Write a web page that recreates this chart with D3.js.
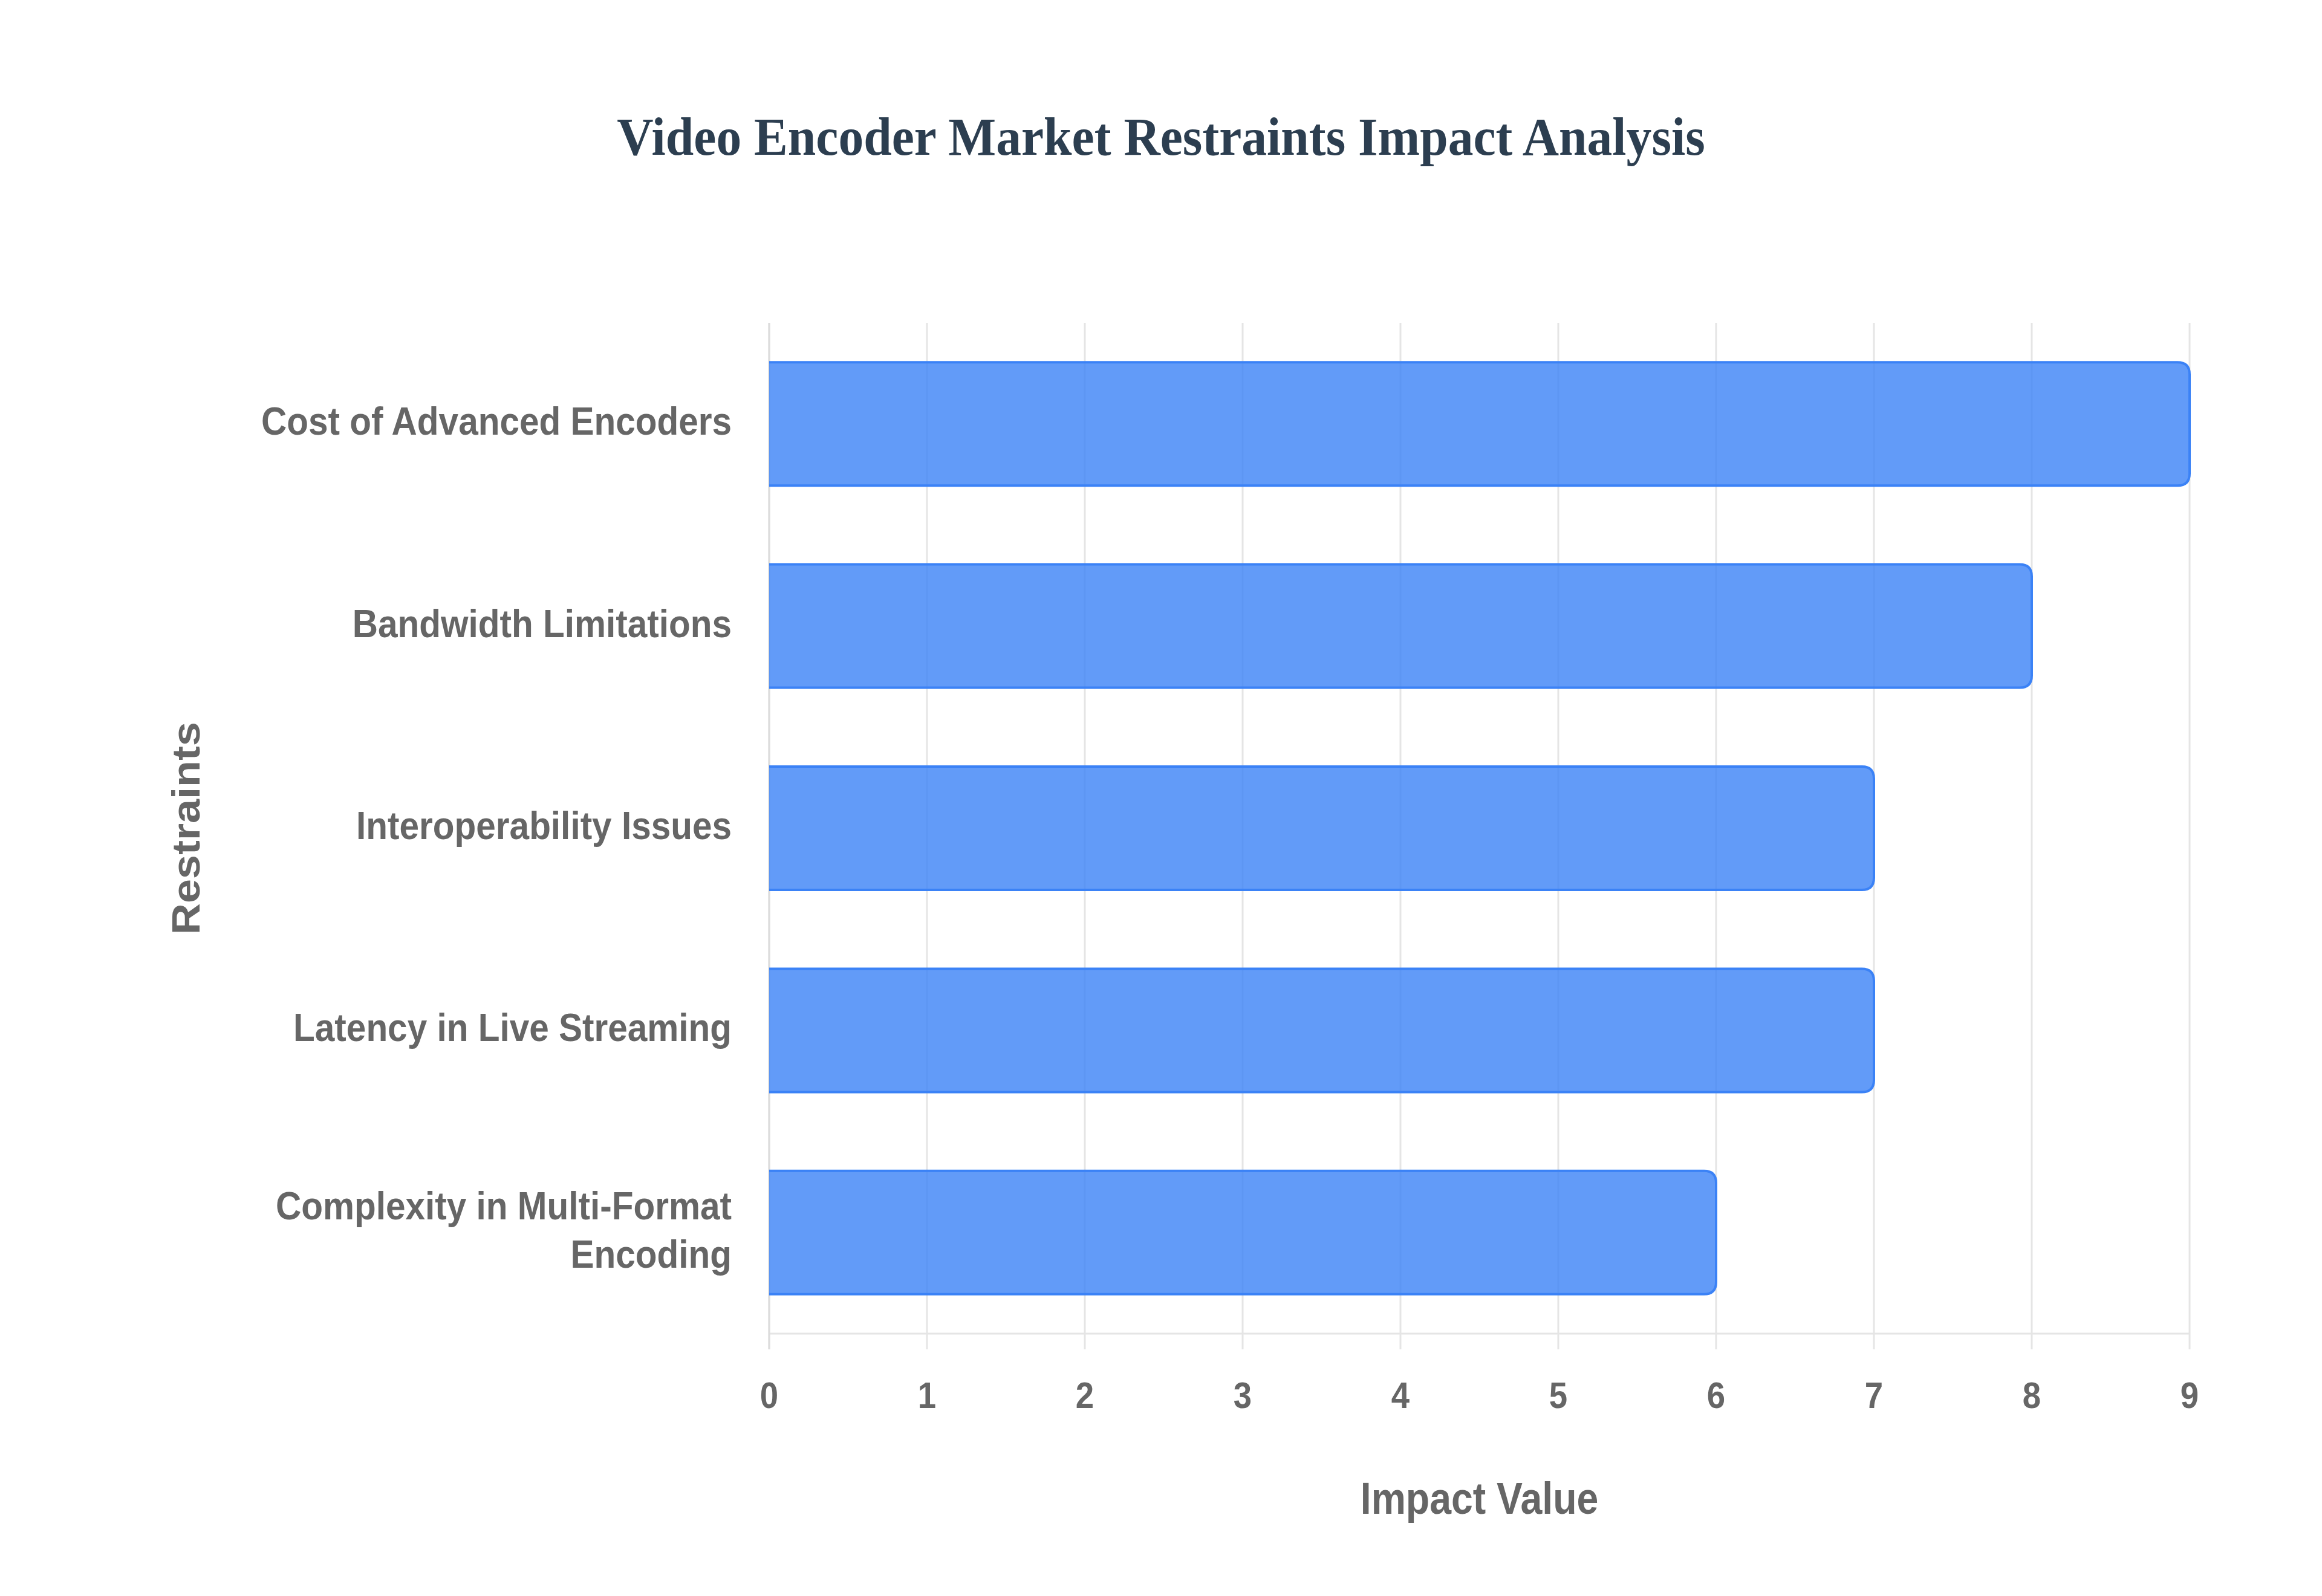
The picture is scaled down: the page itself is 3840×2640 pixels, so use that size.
<!DOCTYPE html>
<html>
<head>
<meta charset="utf-8">
<script src="https://cdn.jsdelivr.net/npm/d3@7"></script>
<style>
  html, body { margin: 0; padding: 0; background: #fff; }
  svg { display: block; }
</style>
</head>
<body>
<svg id="chart"></svg>
<script>
const width = 3840;
const height = 2640;

// data
const restraints = [
  "Cost of Advanced Encoders",
  "Bandwidth Limitations",
  "Interoperability Issues",
  "Latency in Live Streaming",
  "Complexity in Multi-Format Encoding",
];
const restraintLines = [
  ["Cost of Advanced Encoders"],
  ["Bandwidth Limitations"],
  ["Interoperability Issues"],
  ["Latency in Live Streaming"],
  ["Complexity in Multi-Format", "Encoding"],
];
const impactValues = [9, 8, 7, 7, 6];
const xTicks = [0, 1, 2, 3, 4, 5, 6, 7, 8, 9];
const titleText = "Video Encoder Market Restraints Impact Analysis";
const xTitle = "Impact Value";
const yTitle = "Restraints";

const plot = { left: 1272, right: 3621, top: 534, bottom: 2206 };
const labelColor = "#666666";
const gridColor = "#e5e5e5";
const sans = "'Liberation Sans', Arial, Helvetica, sans-serif";

const svg = d3.select("#chart").attr("width", width).attr("height", height);

const x = d3.scaleLinear().domain([0, 9]).range([plot.left, plot.right]);
const y = d3.scaleBand().domain(restraints).range([plot.top, plot.bottom]);
const barH = y.bandwidth() * 0.61;

// grid lines (also act as tick marks under the axis)
svg.append("g")
  .selectAll("line")
  .data(xTicks)
  .enter()
  .append("line")
  .attr("x1", (d) => x(d))
  .attr("x2", (d) => x(d))
  .attr("y1", plot.top)
  .attr("y2", plot.bottom + 26)
  .attr("stroke", gridColor)
  .attr("stroke-width", 3);

svg.append("line")
  .attr("x1", plot.left)
  .attr("x2", plot.right)
  .attr("y1", plot.bottom)
  .attr("y2", plot.bottom)
  .attr("stroke", gridColor)
  .attr("stroke-width", 3);

svg.append("line")
  .attr("x1", plot.left)
  .attr("x2", plot.left)
  .attr("y1", plot.top)
  .attr("y2", plot.bottom + 26)
  .attr("stroke", "#dcdcdc")
  .attr("stroke-width", 3);

// bars, rounded on the value end only
const r = 20;
function barOutline(d, i, closed) {
  const x0 = x(0), x1 = x(impactValues[i]);
  const y0 = y(d) + (y.bandwidth() - barH) / 2, y1 = y0 + barH;
  const p = `M${x0},${y0}H${x1 - r}Q${x1},${y0} ${x1},${y0 + r}V${y1 - r}Q${x1},${y1} ${x1 - r},${y1}H${x0}`;
  return closed ? p + "Z" : p;
}

const bars = svg.append("g");
bars.selectAll("path.fill")
  .data(restraints)
  .enter()
  .append("path")
  .attr("class", "fill")
  .attr("d", (d, i) => barOutline(d, i, true))
  .attr("fill", "rgba(59,130,246,0.8)");
bars.selectAll("path.edge")
  .data(restraints)
  .enter()
  .append("path")
  .attr("class", "edge")
  .attr("d", (d, i) => barOutline(d, i, false))
  .attr("fill", "none")
  .attr("stroke", "#3b82f6")
  .attr("stroke-width", 4);

// x tick labels
svg.append("g")
  .selectAll("text")
  .data(xTicks)
  .enter()
  .append("text")
  .attr("transform", (d) => `translate(${x(d)},2329) scale(0.88,1)`)
  .attr("text-anchor", "middle")
  .attr("font-family", sans)
  .attr("font-weight", "bold")
  .attr("font-size", 62)
  .attr("fill", labelColor)
  .text((d) => d);

// y category labels, long one on two lines
const lineGap = 80;
const yLabels = svg.append("g")
  .selectAll("text")
  .data(restraints)
  .enter()
  .append("text")
  .attr("transform", (d, i) => {
    const n = restraintLines[i].length;
    const base = y(d) + y.bandwidth() / 2 - ((n - 1) * lineGap) / 2 + 18;
    return `translate(1210,${base}) scale(0.9,1)`;
  })
  .attr("text-anchor", "end")
  .attr("font-family", sans)
  .attr("font-weight", "bold")
  .attr("font-size", 65)
  .attr("fill", labelColor);

yLabels.each(function (d, i) {
  d3.select(this)
    .selectAll("tspan")
    .data(restraintLines[i])
    .enter()
    .append("tspan")
    .attr("x", 0)
    .attr("y", (t, j) => j * lineGap)
    .text((t) => t);
});

// axis titles
svg.append("text")
  .attr("transform", `translate(${(plot.left + plot.right) / 2},2504) scale(0.87,1)`)
  .attr("text-anchor", "middle")
  .attr("font-family", sans)
  .attr("font-weight", "bold")
  .attr("font-size", 74)
  .attr("fill", labelColor)
  .text(xTitle);

svg.append("text")
  .attr("transform", `translate(330,${(plot.top + plot.bottom) / 2}) scale(0.9,1) rotate(-90)`)
  .attr("text-anchor", "middle")
  .attr("font-family", sans)
  .attr("font-weight", "bold")
  .attr("font-size", 72)
  .attr("fill", labelColor)
  .text(yTitle);

// title
svg.append("text")
  .attr("transform", `translate(1920,256) scale(0.95,1)`)
  .attr("text-anchor", "middle")
  .attr("font-family", "'Liberation Serif', 'Times New Roman', serif")
  .attr("font-weight", "bold")
  .attr("font-size", 88)
  .attr("fill", "#2c3e50")
  .text(titleText);
</script>
</body>
</html>
